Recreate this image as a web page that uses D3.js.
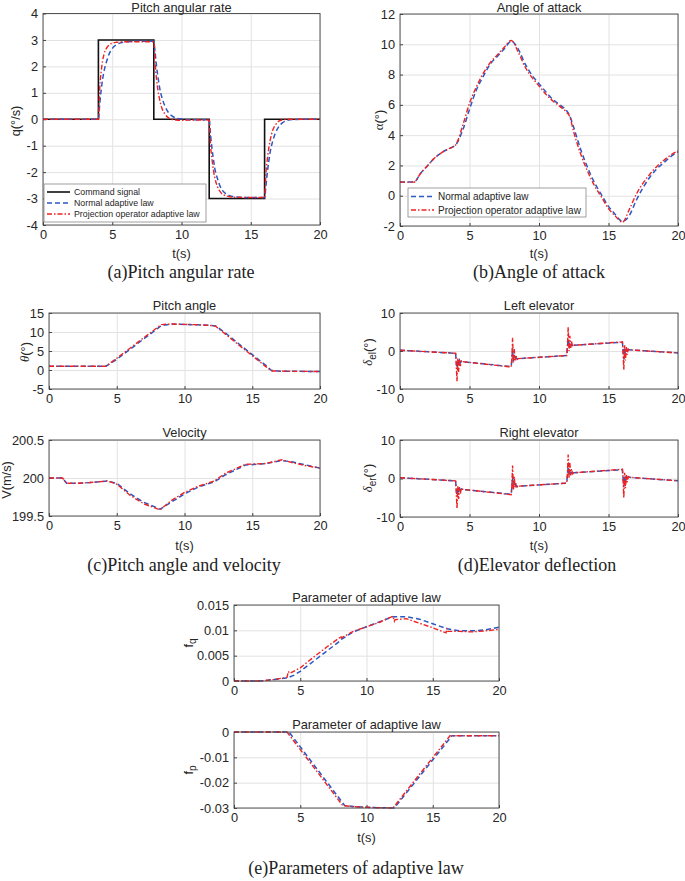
<!DOCTYPE html>
<html lang="en">
<head>
<meta charset="UTF-8">
<title>Adaptive law simulation</title>
<script src="https://d3js.org/d3.v7.min.js"></script>
<style>
  body { margin: 0; background: #fff; }
  text { font-family: "Liberation Sans", Arial, sans-serif; fill: #262626; }
  .cap { font-family: "Liberation Serif", "Times New Roman", serif; fill: #222; }
</style>
</head>
<body>
<script>
// ---- data ----
const xTicks = [0, 5, 10, 15, 20];

// (a) pitch angular rate
const cmdT = [0, 4, 4, 8, 8, 12, 12, 16, 16, 20];
const cmdQ = [0, 0, 3, 3, 0, 0, -3, -3, 0, 0];
const qT = [0, 4, 4.1, 4.2, 4.3, 4.4, 4.6, 4.8, 5, 5.3, 5.6, 6, 7, 8, 8.1, 8.2, 8.3, 8.4, 8.6, 8.8, 9, 9.3, 9.6, 10, 11, 12,
  12.1, 12.2, 12.3, 12.4, 12.6, 12.8, 13, 13.3, 13.6, 14, 15, 16, 16.1, 16.2, 16.3, 16.4, 16.6, 16.8, 17, 17.3, 17.6, 18, 19, 20];
const qNormal = [0, 0, 0.6, 1.1, 1.5, 1.8, 2.2, 2.5, 2.68, 2.82, 2.89, 2.93, 2.95, 2.95, 2.5, 2.0, 1.6, 1.25, 0.8, 0.5, 0.3, 0.13, 0.05, 0.01, -0.02, -0.02,
  -0.6, -1.1, -1.5, -1.85, -2.25, -2.55, -2.72, -2.85, -2.91, -2.94, -2.96, -2.96, -2.5, -2.0, -1.6, -1.25, -0.8, -0.5, -0.3, -0.13, -0.05, -0.01, 0, 0];
const qProj = [0, 0, 1.2, 1.8, 2.2, 2.45, 2.7, 2.82, 2.88, 2.91, 2.92, 2.93, 2.93, 2.93, 2.1, 1.5, 1.1, 0.8, 0.4, 0.2, 0.08, 0, -0.03, -0.04, -0.03, -0.03,
  -1.0, -1.5, -1.9, -2.2, -2.55, -2.75, -2.85, -2.91, -2.94, -2.95, -2.96, -2.96, -2.0, -1.5, -1.1, -0.8, -0.4, -0.2, -0.08, -0.02, 0, 0, 0, 0];

// (b) angle of attack
const aT = [0, 1, 1.5, 2, 2.5, 3, 3.5, 4, 4.5, 5, 5.5, 6, 6.5, 7, 7.5, 8, 8.5, 9, 9.5, 10, 10.5, 11, 11.5, 12, 12.2, 12.5,
  13, 13.5, 14, 14.5, 15, 15.5, 16, 16.5, 17, 17.5, 18, 18.5, 19, 19.5, 20];
const aProj = [0.9, 0.9, 1.5, 2.0, 2.5, 2.85, 3.1, 3.35, 4.6, 6.1, 7.2, 8.1, 8.8, 9.3, 9.8, 10.25, 9.5, 8.5, 7.8, 7.25, 6.7, 6.25, 5.9, 5.5, 5.25, 4.2,
  2.75, 1.6, 0.65, -0.1, -0.85, -1.35, -1.75, -0.9, 0.1, 0.85, 1.45, 1.95, 2.35, 2.7, 2.97];
const aNormal = [0.9, 0.9, 1.5, 2.0, 2.5, 2.85, 3.1, 3.35, 4.3, 5.7, 7.0, 7.9, 8.7, 9.2, 9.7, 10.2, 9.7, 8.7, 7.95, 7.4, 6.85, 6.35, 6.0, 5.6, 5.3, 4.5,
  3.05, 1.85, 0.85, 0.05, -0.7, -1.25, -1.7, -1.3, -0.3, 0.55, 1.25, 1.8, 2.2, 2.6, 2.9];

// (c) pitch angle and velocity
const thT = [0, 4.2, 5, 6, 7, 8, 8.3, 9, 10, 11, 12, 12.3, 13, 14, 15, 16, 16.4, 17, 18, 19, 20];
const thProj = [1.0, 1.0, 3.1, 5.8, 8.5, 11.2, 11.95, 12.1, 12.0, 11.9, 11.7, 11.5, 9.5, 6.6, 3.75, 0.9, -0.25, -0.3, -0.35, -0.37, -0.4];
const thNormal = [1.0, 1.0, 2.8, 5.5, 8.2, 10.9, 11.7, 12.1, 12.0, 11.9, 11.7, 11.6, 9.8, 6.9, 4.05, 1.2, -0.05, -0.3, -0.35, -0.37, -0.4];
const vT = [0, 1, 1.3, 2, 3, 4.3, 5, 6, 7, 8.2, 9, 10, 11, 12.2, 13, 14.5, 16, 17.2, 18, 19, 20];
const vProj = [200, 200, 199.93, 199.93, 199.94, 199.96, 199.92, 199.77, 199.66, 199.58, 199.7, 199.81, 199.89, 199.96, 200.06, 200.18, 200.19, 200.24, 200.2, 200.16, 200.13];
const vNormal = [200, 200, 199.93, 199.93, 199.94, 199.96, 199.93, 199.79, 199.68, 199.59, 199.68, 199.79, 199.88, 199.95, 200.04, 200.17, 200.19, 200.23, 200.21, 200.17, 200.13];

// (d) elevator deflection
const eT = [0,
  4, 4.04, 4.1, 4.16, 4.22, 4.28, 4.34, 4.42, 4.5,
  8, 8.04, 8.1, 8.16, 8.22, 8.28, 8.34, 8.42, 8.5,
  12, 12.04, 12.1, 12.16, 12.22, 12.28, 12.34, 12.42, 12.5,
  16, 16.04, 16.1, 16.16, 16.22, 16.28, 16.34, 16.42, 16.5, 20];
const elProj = [0.2,
  -0.6, -3, -8, -2, -5.5, -2.2, -4, -2.5, -2.8,
  -4.2, -2.5, 3.5, -3, 0.5, -2.5, -1.2, -2.2, -2.0,
  -1.2, 1, 6.3, 0, 4, 0.8, 2.5, 1.2, 1.5,
  2.4, 0.5, -5, 1.5, -2.5, 1, -1, 0.5, 0.3, -0.5];
const elNormal = [0.2,
  -0.6, -2.5, -4.5, -2.2, -3.5, -2.5, -3.1, -2.7, -2.85,
  -4.1, -2.5, 0.5, -2.6, -1.0, -2.3, -1.7, -2.1, -2.0,
  -1.2, 1, 3.2, 0.8, 2.4, 1.1, 1.8, 1.4, 1.5,
  2.3, 0.5, -2.2, 0.8, -1, 0.6, -0.3, 0.4, 0.3, -0.5];
const erProj = [0.2,
  -0.6, -3, -7.8, -2, -5.3, -2.2, -3.9, -2.5, -2.8,
  -4.2, -2.5, 3.4, -3, 0.5, -2.5, -1.2, -2.2, -2.0,
  -1.2, 1, 6.2, 0, 4, 0.8, 2.5, 1.2, 1.5,
  2.4, 0.5, -5, 1.5, -2.5, 1, -1, 0.5, 0.3, -0.6];
const erNormal = [0.2,
  -0.6, -2.5, -4.4, -2.2, -3.5, -2.5, -3.1, -2.7, -2.85,
  -4.1, -2.5, 0.5, -2.6, -1.0, -2.3, -1.7, -2.1, -2.0,
  -1.2, 1, 3.1, 0.8, 2.4, 1.1, 1.8, 1.4, 1.5,
  2.3, 0.5, -2.2, 0.8, -1, 0.6, -0.3, 0.4, 0.3, -0.6];

// (e) adaptive parameters
const fqT = [0, 2, 3, 4, 4.1, 4.2, 4.5, 5, 6, 7, 8, 8.05, 8.1, 9, 10, 11, 12, 12.1, 12.15, 13, 14, 15, 16, 16.05, 16.1, 17, 18, 19, 20];
const fqProj = [0, 0, 0.0003, 0.0007, 0.0019, 0.0015, 0.0019, 0.0026, 0.0047, 0.0067, 0.0086, 0.0089, 0.0085, 0.0098, 0.0107, 0.0116, 0.0128,
  0.0118, 0.0121, 0.0123, 0.0114, 0.0105, 0.0095, 0.0104, 0.0098, 0.0098, 0.0097, 0.0099, 0.0102];
const fqNormal = [0, 0, 0.0003, 0.0006, 0.0007, 0.0008, 0.0011, 0.0019, 0.0039, 0.0059, 0.0079, 0.0081, 0.0082, 0.0097, 0.0107, 0.0117, 0.0127,
  0.0127, 0.0127, 0.0127, 0.0122, 0.0113, 0.0104, 0.0104, 0.0103, 0.0099, 0.0099, 0.0101, 0.0106];
const fpT = [0, 4, 8.2, 9, 10, 11, 12, 16.3, 17, 18, 19, 20];
const fpProj = [0, 0, -0.029, -0.0295, -0.0297, -0.0299, -0.03, -0.0015, -0.0015, -0.0015, -0.0015, -0.0015];
const fpNT = [0, 4.15, 8.35, 9, 10, 11, 12.1, 16.45, 17, 18, 19, 20];
const fpNormal = [0, 0, -0.029, -0.0294, -0.0297, -0.0299, -0.03, -0.0015, -0.0015, -0.0015, -0.0015, -0.0015];

// ---- styles ----
const BLACK = "#111", BLUE = "#2d57c4", RED = "#ee2222";
const sty = {
  cmd: { color: BLACK, dash: null, w: 1.6 },
  normal: { color: BLUE, dash: "5,3", w: 1.5 },
  proj: { color: RED, dash: "5,2,1.5,2", w: 1.4 }
};

const svg = d3.select("body").append("svg")
  .attr("width", 685).attr("height", 881)
  .style("background", "#fff");

function drawPanel(p) {
  const x = d3.scaleLinear().domain([0, 20]).range([p.left, p.right]);
  const y = d3.scaleLinear().domain(p.yDomain).range([p.bottom, p.top]);
  const g = svg.append("g");
  const h = p.bottom - p.top, w = p.right - p.left;

  // grid
  g.append("g").attr("transform", `translate(0,${p.bottom})`)
    .call(d3.axisBottom(x).tickValues(xTicks).tickSize(-h).tickFormat(""))
    .call(a => a.select(".domain").remove())
    .selectAll("line").attr("stroke", "#e2e2e2");
  g.append("g").attr("transform", `translate(${p.left},0)`)
    .call(d3.axisLeft(y).tickValues(p.yTicks).tickSize(-w).tickFormat(""))
    .call(a => a.select(".domain").remove())
    .selectAll("line").attr("stroke", "#e2e2e2");

  // axes with inward ticks
  const ax = g.append("g").attr("transform", `translate(0,${p.bottom})`)
    .call(d3.axisBottom(x).tickValues(xTicks).tickSizeInner(-3).tickSizeOuter(0).tickPadding(5).tickFormat(d => String(d)));
  const ay = g.append("g").attr("transform", `translate(${p.left},0)`)
    .call(d3.axisLeft(y).tickValues(p.yTicks).tickSizeInner(-3).tickSizeOuter(0).tickPadding(5).tickFormat(d => String(d)));
  [ax, ay].forEach(a => {
    a.select(".domain").remove();
    a.selectAll("line").attr("stroke", "#444");
    a.selectAll("text").attr("font-size", 12.8).attr("fill", "#262626")
      .style("font-family", "'Liberation Sans', Arial, sans-serif");
  });

  // series
  const line = d3.line().x(d => x(d[0])).y(d => y(d[1])).curve(p.curve || d3.curveLinear);
  const straight = d3.line().x(d => x(d[0])).y(d => y(d[1]));
  p.series.forEach(s => {
    const pts = d3.zip(s.t, s.v);
    g.append("path")
      .attr("d", s.step ? straight(pts) : line(pts))
      .attr("fill", "none").attr("stroke", s.style.color).attr("stroke-width", s.style.w)
      .attr("stroke-dasharray", s.style.dash);
  });

  // box
  g.append("rect").attr("x", p.left).attr("y", p.top).attr("width", w).attr("height", h)
    .attr("fill", "none").attr("stroke", "#444").attr("stroke-width", 0.9);

  // title
  g.append("text").attr("x", (p.left + p.right) / 2).attr("y", p.titleY || p.top - 3.5)
    .attr("text-anchor", "middle").attr("font-size", 12.8).text(p.title);

  // y label
  const yl = g.append("text")
    .attr("transform", `translate(${p.ylx},${p.yly}) rotate(-90)`)
    .attr("text-anchor", "middle").attr("dominant-baseline", "central").attr("font-size", 12.8);
  p.ylabel(yl);

  if (p.xlabelY) {
    g.append("text").attr("x", (p.left + p.right) / 2).attr("y", p.xlabelY)
      .attr("text-anchor", "middle").attr("dominant-baseline", "central").attr("font-size", 12.8).text("t(s)");
  }

  if (p.legend) {
    const L = p.legend;
    const lg = g.append("g");
    lg.append("rect").attr("x", L.x).attr("y", L.y).attr("width", L.w).attr("height", L.h)
      .attr("fill", "#fff").attr("stroke", "#888").attr("stroke-width", 0.8);
    L.items.forEach((it, i) => {
      const yy = L.y + L.pad + i * L.step;
      lg.append("line").attr("x1", L.x + 3).attr("x2", L.x + 26).attr("y1", yy).attr("y2", yy)
        .attr("stroke", it.style.color).attr("stroke-width", it.style.w).attr("stroke-dasharray", it.style.dash);
      lg.append("text").attr("x", L.x + 30).attr("y", yy).attr("dominant-baseline", "central")
        .attr("font-size", L.fs).text(it.label);
    });
  }
  return { x, y };
}

// (a)
drawPanel({
  left: 43, right: 320, top: 13.5, bottom: 225, yDomain: [-4, 4], yTicks: d3.range(-4, 5),
  title: "Pitch angular rate", titleY: 11.5, ylx: 15, yly: 121, xlabelY: 253,
  ylabel: t => t.text("q(°/s)"),
  series: [
    { t: cmdT, v: cmdQ, style: sty.cmd, step: true },
    { t: qT, v: qNormal, style: sty.normal },
    { t: qT, v: qProj, style: sty.proj }
  ],
  curve: d3.curveMonotoneX,
  legend: { x: 44, y: 184, w: 162, h: 38, pad: 8, step: 11, fs: 8.8, items: [
    { label: "Command signal", style: sty.cmd },
    { label: "Normal adaptive law", style: sty.normal },
    { label: "Projection operator adaptive law", style: sty.proj }
  ] }
});

// (b)
drawPanel({
  left: 400, right: 678, top: 14, bottom: 226, yDomain: [-2, 12], yTicks: d3.range(-2, 13, 2),
  title: "Angle of attack", titleY: 11.5, ylx: 379, yly: 120, xlabelY: 253,
  ylabel: t => { t.append("tspan").style("font-family", "'Liberation Serif', serif").text("α"); t.append("tspan").text("(°)"); },
  series: [
    { t: aT, v: aNormal, style: sty.normal },
    { t: aT, v: aProj, style: sty.proj }
  ],
  curve: d3.curveMonotoneX,
  legend: { x: 408, y: 188, w: 178, h: 29, pad: 8.5, step: 13.5, fs: 10, items: [
    { label: "Normal adaptive law", style: sty.normal },
    { label: "Projection operator adaptive law", style: sty.proj }
  ] }
});

// (c) pitch angle
drawPanel({
  left: 49, right: 320, top: 313, bottom: 389, yDomain: [-5, 15], yTicks: [-5, 0, 5, 10, 15],
  title: "Pitch angle", ylx: 25, yly: 352,
  ylabel: t => { t.append("tspan").style("font-family", "'Liberation Serif', serif").style("font-style", "italic").text("θ"); t.append("tspan").text("(°)"); },
  series: [
    { t: thT, v: thNormal, style: sty.normal },
    { t: thT, v: thProj, style: sty.proj }
  ]
});
// (c) velocity
drawPanel({
  left: 49, right: 320, top: 440, bottom: 516, yDomain: [199.5, 200.5], yTicks: [199.5, 200, 200.5],
  title: "Velocity", ylx: 6, yly: 480, xlabelY: 545,
  ylabel: t => t.text("V(m/s)"),
  series: [
    { t: vT, v: vNormal, style: sty.normal },
    { t: vT, v: vProj, style: sty.proj }
  ]
});

// (d)
const deltaLabel = sub => t => {
  t.append("tspan").style("font-family", "'Liberation Serif', serif").style("font-style", "italic").text("δ");
  t.append("tspan").attr("font-size", 10).attr("dy", 4).text(sub);
  t.append("tspan").attr("dy", -4).text("(°)");
};
drawPanel({
  left: 400, right: 678, top: 313, bottom: 389, yDomain: [-10, 10], yTicks: [-10, 0, 10],
  title: "Left elevator", ylx: 368, yly: 352,
  ylabel: deltaLabel("el"),
  series: [
    { t: eT, v: elNormal, style: sty.normal },
    { t: eT, v: elProj, style: sty.proj }
  ]
});
drawPanel({
  left: 400, right: 678, top: 440, bottom: 517, yDomain: [-10, 10], yTicks: [-10, 0, 10],
  title: "Right elevator", ylx: 368, yly: 478, xlabelY: 545,
  ylabel: deltaLabel("er"),
  series: [
    { t: eT, v: erNormal, style: sty.normal },
    { t: eT, v: erProj, style: sty.proj }
  ]
});

// (e)
const fLabel = sub => t => {
  t.append("tspan").text("f");
  t.append("tspan").attr("font-size", 10).attr("dy", 4).text(sub);
};
drawPanel({
  left: 234, right: 499, top: 605, bottom: 681, yDomain: [0, 0.015], yTicks: [0, 0.005, 0.01, 0.015],
  title: "Parameter of adaptive law", ylx: 188, yly: 643,
  ylabel: fLabel("q"),
  series: [
    { t: fqT, v: fqNormal, style: sty.normal },
    { t: fqT, v: fqProj, style: sty.proj }
  ]
});
drawPanel({
  left: 234, right: 499, top: 732, bottom: 808, yDomain: [-0.03, 0], yTicks: [-0.03, -0.02, -0.01, 0],
  title: "Parameter of adaptive law", ylx: 188, yly: 770, xlabelY: 837,
  ylabel: fLabel("p"),
  series: [
    { t: fpNT, v: fpNormal, style: sty.normal },
    { t: fpT, v: fpProj, style: sty.proj }
  ]
});

// captions
const captions = [
  { x: 181, y: 272, text: "(a)Pitch angular rate" },
  { x: 539, y: 272, text: "(b)Angle of attack" },
  { x: 184, y: 565, text: "(c)Pitch angle and velocity" },
  { x: 537, y: 565, text: "(d)Elevator deflection" },
  { x: 356, y: 868, text: "(e)Parameters of adaptive law" }
];
svg.selectAll(".cap").data(captions).join("text")
  .attr("class", "cap").attr("x", d => d.x).attr("y", d => d.y)
  .attr("text-anchor", "middle").attr("dominant-baseline", "central")
  .attr("font-size", 18).text(d => d.text);
</script>
</body>
</html>
